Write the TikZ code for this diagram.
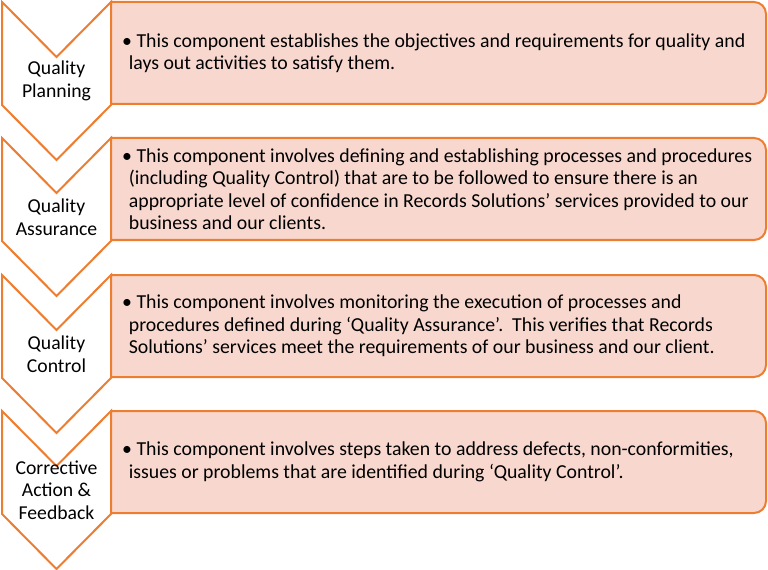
\documentclass[tikz,border=0pt]{standalone}
\usepackage{fontspec}
\setmainfont{Carlito}
\usepackage{xcolor}
\definecolor{qorange}{HTML}{ED7D31}
\definecolor{qpeach}{HTML}{F8D8CE}
\newcommand{\hangin}{\hspace*{0.2cm}}

\tikzset{
  chev/.style={draw=qorange, fill=white, line width=0.06cm, line join=miter},
  qbox/.style={draw=qorange, fill=qpeach, line width=0.06cm},
  chevlabel/.style={align=center, inner sep=0pt, font=\fontsize{16.8}{19.3}\selectfont},
  boxtext/.style={align=left, anchor=west, inner sep=0pt, font=\fontsize{16.9}{19.2}\selectfont}
}

\begin{document}
\begin{tikzpicture}[x=0.03cm, y=-0.03cm]
\useasboundingbox (0,0) rectangle (768,570);

% quality planning
\draw [chev] (2,2) -- (56.5,57) -- (111,2) -- (111,105) -- (56.5,160) -- (2,105) -- cycle;
\draw [qbox] (111,2) [rounded corners=0.36cm] -- (766,2) -- (766,104) [sharp corners] -- (111,104) -- cycle;
\node [chevlabel] (planning) at (56.5,81) {Quality\\Planning};
\node [boxtext] (planningtext) at (122,53) {\textbullet\ This component establishes the objectives and requirements for quality and\\
\hangin lays out activities to satisfy them.};

% quality assurance
\draw [chev] (2,138) -- (56.5,193) -- (111,138) -- (111,241) -- (56.5,296) -- (2,241) -- cycle;
\draw [qbox] (111,138) [rounded corners=0.36cm] -- (766,138) -- (766,240) [sharp corners] -- (111,240) -- cycle;
\node [chevlabel] (assurance) at (56.5,217) {Quality\\Assurance};
\node [boxtext] (assurancetext) at (122,189) {\textbullet\ This component involves defining and establishing processes and procedures\\
\hangin (including Quality Control) that are to be followed to ensure there is an\\
\hangin appropriate level of confidence in Records Solutions’ services provided to our\\
\hangin business and our clients.};

% quality control
\draw [chev] (2,275) -- (56.5,330) -- (111,275) -- (111,378) -- (56.5,433) -- (2,378) -- cycle;
\draw [qbox] (111,275) [rounded corners=0.36cm] -- (766,275) -- (766,377) [sharp corners] -- (111,377) -- cycle;
\node [chevlabel] (control) at (56.5,354) {Quality\\Control};
\node [boxtext] (controltext) at (122,326) {\textbullet\ This component involves monitoring the execution of processes and\\
\hangin procedures defined during ‘Quality Assurance’.\ \ This verifies that Records\\
\hangin Solutions’ services meet the requirements of our business and our client.};

% corrective action
\draw [chev] (2,411) -- (56.5,466) -- (111,411) -- (111,514) -- (56.5,569) -- (2,514) -- cycle;
\draw [qbox] (111,411) [rounded corners=0.36cm] -- (766,411) -- (766,513) [sharp corners] -- (111,513) -- cycle;
\node [chevlabel] (corrective) at (56.5,490) {Corrective\\Action \&\\Feedback};
\node [boxtext] (correctivetext) at (122,462) {\textbullet\ This component involves steps taken to address defects, non-conformities,\\
\hangin issues or problems that are identified during ‘Quality Control’.};

\end{tikzpicture}
\end{document}
